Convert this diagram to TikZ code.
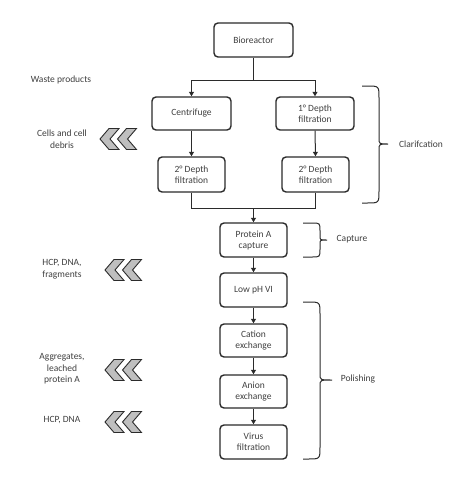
\documentclass[tikz,border=0pt]{standalone}
\usepackage{fontspec}
\setmainfont{Carlito}
\usetikzlibrary{arrows.meta}
\definecolor{boxc}{HTML}{2B2B2B}
\definecolor{txt}{HTML}{404040}
\definecolor{chevc}{HTML}{BFBFBF}
\newcommand\chevpair[2]{%
  \foreach \dx in {0,17.5}{%
    \filldraw[chevs] ({#1+\dx},#2) -- ++(9,-10.5) -- ++(10,0) -- ++(-9,10.5) -- ++(9,10.5) -- ++(-10,0) -- cycle;}}
\newcommand\mybrace[7]{%
  \draw[brc] (#1,#2) -- ({#1+17-#6},#2) .. controls ({#1+17},#2) .. ({#1+17},{#2+#6})
    -- ({#1+17},{#4-#7}) .. controls ({#1+17},#4) .. (#5,#4)
    .. controls ({#1+17},#4) .. ({#1+17},{#4+#7})
    -- ({#1+17},{#3-#6}) .. controls ({#1+17},#3) .. ({#1+17-#6},#3) -- (#1,#3);}
\begin{document}
\begin{tikzpicture}[x=1pt,y=-1pt,
  box/.style={draw=boxc, line width=1.4pt, rounded corners=4pt, fill=white, text=txt,
    align=center, inner sep=0pt, font=\fontsize{9.5}{11}\selectfont},
  lbl/.style={text=txt, align=center, inner sep=0pt, font=\fontsize{9.5}{11.5}\selectfont},
  conn/.style={draw=boxc, line width=1pt},
  arr/.style={conn, -{Triangle[length=4.5pt,width=5pt]}},
  brc/.style={draw=boxc, line width=1pt},
  chevs/.style={draw=boxc, line width=0.9pt, fill=chevc, line join=miter}]
\fill[white] (0,0) rectangle (474,482);
\useasboundingbox (0,0) rectangle (474,482);

% boxes
\node[box, minimum width=79pt, minimum height=34pt] (bio) at (253.5,40) {Bioreactor};
\node[box, minimum width=79pt, minimum height=33pt] (cent) at (191.5,113.5) {Centrifuge};
\node[box, minimum width=78pt, minimum height=33pt] (d1) at (315,113.5) {1° Depth\\filtration};
\node[box, minimum width=67pt, minimum height=35pt] (d2l) at (191.5,174.5) {2° Depth\\filtration};
\node[box, minimum width=67pt, minimum height=35pt] (d2r) at (315.5,174.5) {2° Depth\\filtration};
\node[box, minimum width=67pt, minimum height=34pt] (protA) at (253.5,240) {Protein A\\capture};
\node[box, minimum width=67pt, minimum height=34pt] (lowph) at (253.5,290) {Low pH VI};
\node[box, minimum width=67pt, minimum height=33pt] (cation) at (253.5,340.5) {Cation\\exchange};
\node[box, minimum width=67pt, minimum height=33pt] (anion) at (253.5,391.5) {Anion\\exchange};
\node[box, minimum width=67pt, minimum height=34pt] (virus) at (253.5,442) {Virus\\filtration};

% connectors
\coordinate (split) at (253.5,80);
\coordinate (merge) at (253.5,208);
\draw[conn] (bio.south) -- (split);
\draw[arr] (split) -| (cent.north);
\draw[arr] (split) -| (d1.north);
\draw[arr] (cent.south) -- (d2l.north);
\draw[arr] (d1.south) -- (d2r.north);
\draw[conn] (d2l.south) |- (merge);
\draw[conn] (d2r.south) |- (merge);
\draw[arr] (merge) -- (protA.north);
\draw[arr] (protA.south) -- (lowph.north);
\draw[arr] (lowph.south) -- (cation.north);
\draw[arr] (cation.south) -- (anion.north);
\draw[arr] (anion.south) -- (virus.north);

% braces
\mybrace{362}{86}{203}{144}{388}{12}{6}
\mybrace{303}{223}{257}{240}{327}{8}{4}
\mybrace{303}{302}{459}{380}{332}{12}{6}

\node[lbl] (lclar) at (421,144) {Clarifcation};
\node[lbl] (lcap) at (352,239) {Capture};
\node[lbl] (lpol) at (358,379) {Polishing};

% left labels
\node[lbl] (waste) at (61,80) {Waste products};
\node[lbl] (cells) at (62,139) {Cells and cell\\debris};
\node[lbl] (hcp1) at (62,269) {HCP, DNA,\\fragments};
\node[lbl] (aggr) at (62,369) {Aggregates,\\leached\\protein A};
\node[lbl] (hcp2) at (62,420) {HCP, DNA};

% chevrons
\chevpair{100}{139}
\chevpair{105}{270}
\chevpair{105}{370}
\chevpair{105}{422}
\end{tikzpicture}
\end{document}
